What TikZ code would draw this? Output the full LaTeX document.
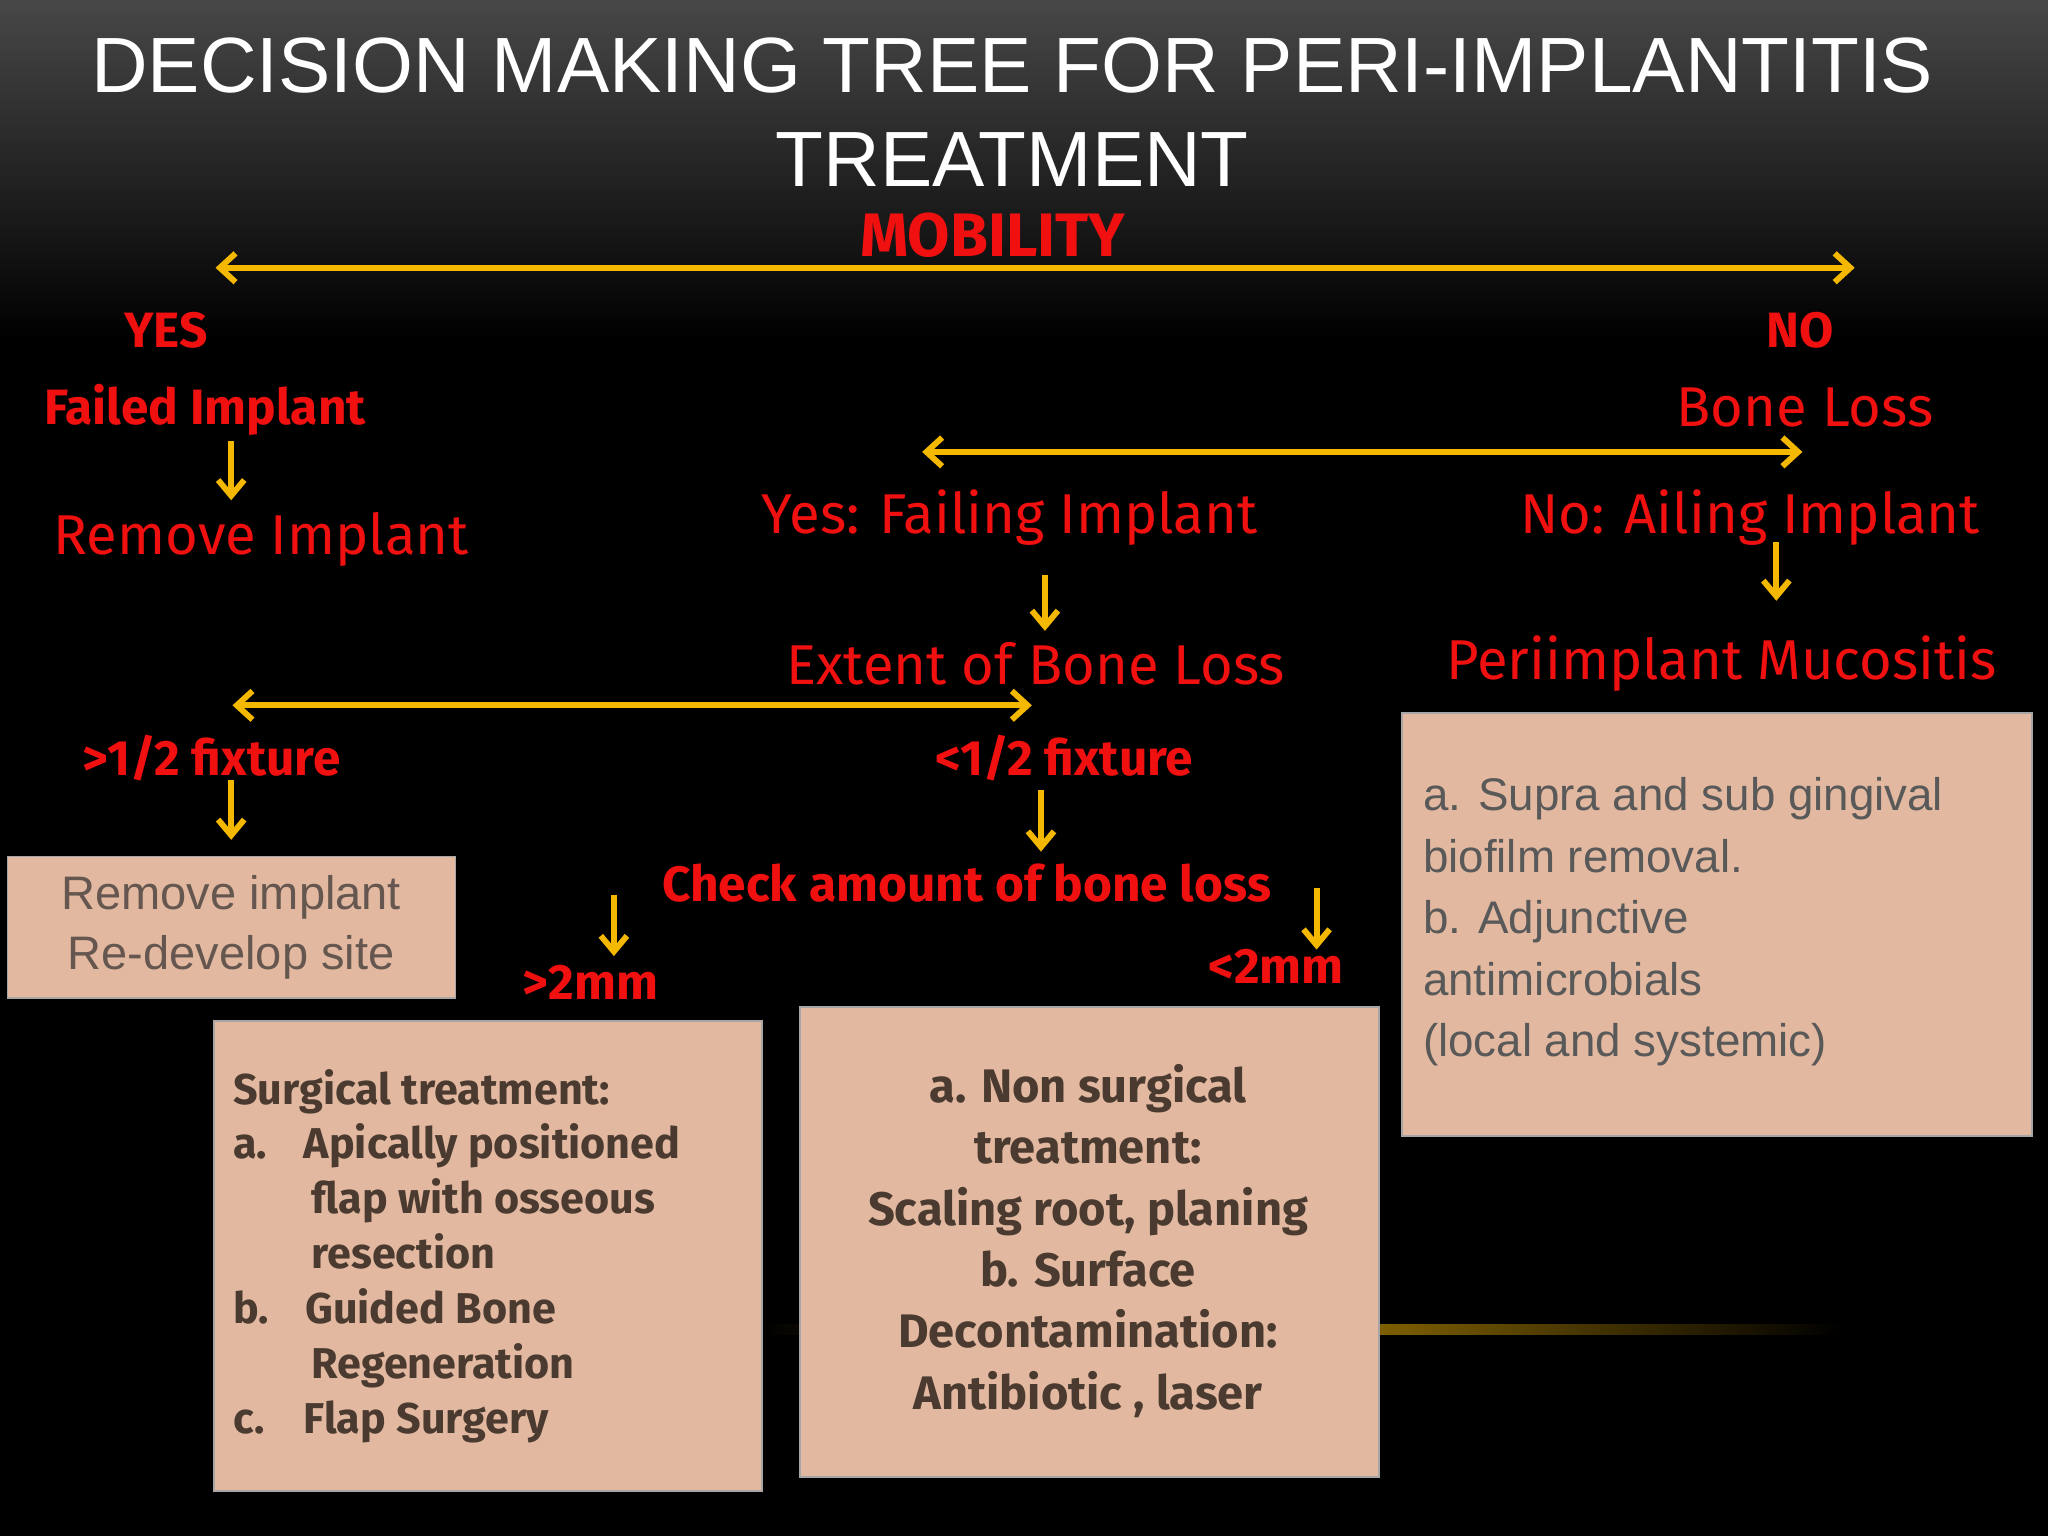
\documentclass[tikz,border=0pt]{standalone}
\usepackage{fontspec}
\setmainfont{Fira Sans}
\newfontfamily\titlefont{Liberation Sans}
\newfontfamily\boxfont{Liberation Sans}
\usetikzlibrary{arrows.meta}
\definecolor{gold}{HTML}{F5B800}
\definecolor{redt}{HTML}{F01010}
\definecolor{tan}{HTML}{E2B9A0}
\definecolor{boxtxt}{HTML}{4A3A30}
\begin{document}
\begin{tikzpicture}[x=1pt,y=-1pt,
 rt/.style={text=redt,font=\fontsize{43}{48}\selectfont},
 rts/.style={text=redt,font=\fontsize{38}{42}\selectfont\bfseries},
 arr/.style={draw=gold,line width=4.5pt,-{Straight Barb[length=12pt,width=20pt]}},
 darr/.style={draw=gold,line width=4.5pt,{Straight Barb[length=12pt,width=22pt]}-{Straight Barb[length=12pt,width=22pt]}},
 bx/.style={draw=gray!70,line width=1.5pt,fill=tan,anchor=north west,inner sep=0pt}]
\fill[black] (0,0) rectangle (1568,1176);
\shade[top color=black!72!white,bottom color=black] (0,0) rectangle (1568,260);
\shade[left color=black,right color=black,middle color=gold!60!black] (583,1014) rectangle (1410,1022);
\useasboundingbox (0,0) rectangle (1568,1176);
\node[text=white,font=\titlefont\fontsize{60}{72}\selectfont,align=center] (title) at (775,86) {DECISION MAKING TREE FOR PERI-IMPLANTITIS\\TREATMENT};
\node[rts,font=\fontsize{47}{50}\selectfont\bfseries] (mob) at (760,180) {MOBILITY};
\coordinate (m1) at (165,205); \coordinate (m2) at (1420,205);
\draw[darr] (m1) -- (m2);
\node[rts] (yes) at (127,253) {YES};
\node[rts] (no) at (1378,253) {NO};
\node[rts] (fail) at (157,314) {Failed Implant};
\node[rt] (rem) at (200,413) {Remove Implant};
\draw[arr] (177,338) -- (177,383);
\node[rt] (bl) at (1382,312) {Bone Loss};
\coordinate (b1) at (706,346); \coordinate (b2) at (1380,346);
\draw[darr] (b1) -- (b2);
\node[rt] (yf) at (773,396) {Yes: Failing Implant};
\node[rt] (na) at (1340,396) {No: Ailing Implant};
\draw[arr] (1360,415) -- (1360,460);
\draw[arr] (800,440) -- (800,483);
\node[rt] (ext) at (793,508) {Extent of Bone Loss};
\node[rt] (peri) at (1318,508) {Periimplant Mucositis};
\coordinate (e1) at (178,540); \coordinate (e2) at (790,540);
\draw[darr] (e1) -- (e2);
\node[rts] (gt) at (162,580) {>1/2 fixture};
\node[rts] (lt) at (815,580) {<1/2 fixture};
\draw[arr] (177,597) -- (177,643);
\draw[arr] (797,605) -- (797,652);
\node[bx,minimum width=343pt,minimum height=108pt] (rbox) at (5,655) {};
\node[text=boxtxt!85,font=\boxfont\fontsize{36}{46}\selectfont,align=center] at (177,710) {Remove implant\\Re-develop site};
\node[rts] (chk) at (740,676) {Check amount of bone loss};
\draw[arr] (470,685) -- (470,732);
\draw[arr] (1008,680) -- (1008,727);
\node[rts] (g2) at (452,752) {>2mm};
\node[rts] (l2) at (977,740) {<2mm};
\node[bx,minimum width=420pt,minimum height=360pt] (sbox) at (163,781) {};
\node[anchor=north west,text=boxtxt,font=\fontsize{33}{42}\selectfont\bfseries,align=left] at (175,815) {Surgical treatment:\\
a.\hspace{28pt}Apically positioned\\\hspace{60pt}flap with osseous\\\hspace{60pt}resection\\
b.\hspace{28pt}Guided Bone\\\hspace{60pt}Regeneration\\c.\hspace{30pt}Flap Surgery};
\node[bx,minimum width=443pt,minimum height=360pt] (nbox) at (612,770) {};
\node[text=boxtxt,font=\fontsize{36}{47}\selectfont\bfseries,align=center] at (833,950) {a. Non surgical\\treatment:\\Scaling root, planing\\b. Surface\\Decontamination:\\Antibiotic , laser};
\node[bx,minimum width=482pt,minimum height=324pt] (pbox) at (1073,545) {};
\node[anchor=north west,text=black!65,font=\boxfont\fontsize{35}{47}\selectfont,align=left] at (1086,592) {a. Supra and sub gingival\\biofilm removal.\\b. Adjunctive\\antimicrobials\\(local and systemic)};
\end{tikzpicture}
\end{document}
